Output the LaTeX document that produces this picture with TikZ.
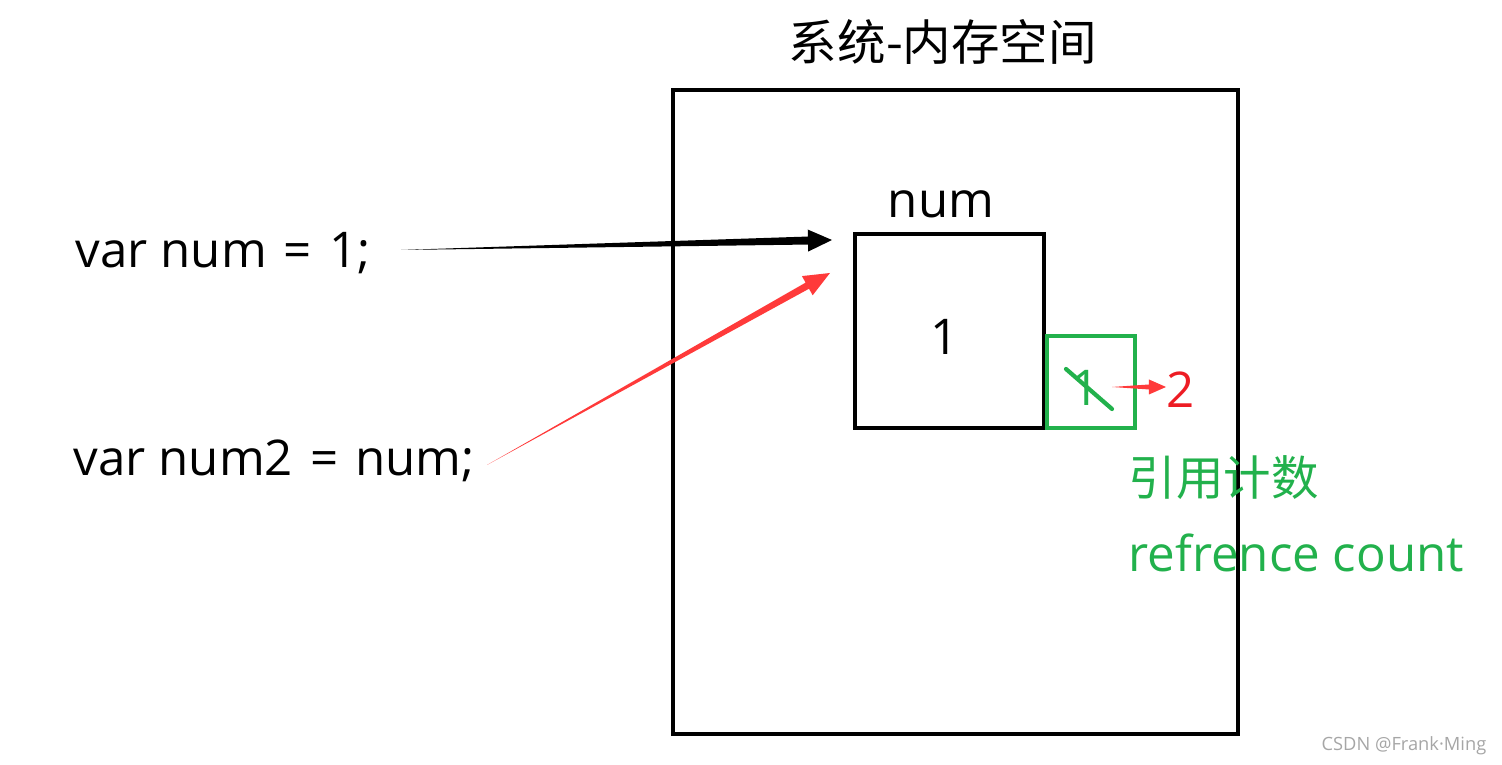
\documentclass[tikz,border=0pt]{standalone}
\usepackage{fontspec}
\setmainfont{Open Sans}
\newfontfamily\cjk{Noto Sans CJK SC}
\usetikzlibrary{calc,positioning}
\definecolor{countgreen}{RGB}{34,177,76}
\definecolor{arrowred}{RGB}{255,58,58}
\definecolor{numred}{RGB}{237,28,36}
\newcommand{\eqsign}{\hspace{1.2pt}=\hspace{1.2pt}}
\tikzset{%
  % Specifications for style of nodes:
   code/.style = {font=\fontsize{14}{16}\selectfont, inner sep=0pt},
   title/.style = {code, font=\cjk\fontsize{13.8}{16}\selectfont},
   memory/.style = {rectangle, draw=black, line width=1.2pt,
                  minimum width=5.65cm, minimum height=6.44cm},
   cell/.style = {rectangle, draw=black, line width=1.2pt,
                  minimum width=1.89cm, minimum height=1.935cm},
   counter/.style = {rectangle, draw=countgreen, line width=1.3pt,
                  minimum width=0.88cm, minimum height=0.92cm},
   green_text/.style = {code, text=countgreen},
   mark_text/.style = {font=\fontsize{5.2}{6}\selectfont, text=black!35, inner sep=0pt},
  % Specifications for style of lines:
   strike/.style = {countgreen, line width=1.2pt, line cap=round},
}
% tapered arrow: colour, from, to, head length, head half width, shaft half width
\newcommand{\taperarrow}[6]{%
  \path (#3) coordinate (tip) ($(#3)!#4!(#2)$) coordinate (tbase);
  \fill[#1] (#2) -- ($(tbase)!#6!90:(tip)$) -- ($(tbase)!#5!90:(tip)$) -- (tip)
     -- ($(tbase)!#5!-90:(tip)$) -- ($(tbase)!#6!-90:(tip)$) -- cycle;}

\begin{document}
\begin{tikzpicture}[x=0.01cm, y=-0.01cm]
  \useasboundingbox (0,0) rectangle (1502,765);

  % Specification of nodes (position, etc.)
  \node (title_text)	[title]	at (943,42)	{系统-内存空间};
  \node (memory_block)	[memory]	at (955.5,412)	{};
  \node (num_block)	[cell]	at (949.5,331)	{};
  \node (num_label)	[code, anchor=base]	at (941,218)	{num};
  \node (num_value)	[code, anchor=base]	at (945,355)	{1};
  \node (count_block)	[counter]	at (1091,382)	{};
  \node (old_count)	[green_text, anchor=base]	at (1086,406)	{1};
  \node (new_count)	[code, text=numred, anchor=base]	at (1181,408)	{2};
  \node (count_cn)	[green_text, font=\cjk\fontsize{13.5}{16}\selectfont, anchor=west]	at (1128,478)	{引用计数};
  \node (count_en)	[green_text, anchor=base west]	at (1128,572)	{refrence count};

  \node (varone_line)	[code, anchor=base west]	at (75,268)	{var num \eqsign{} 1;};
  \node (vartwo_line)	[code, anchor=base west]	at (73,476)	{var num2 \eqsign{} num;};
  \node (mark_text)	[mark_text, anchor=base east]	at (1487,751)	{CSDN @Frank·Ming};

  % Arrows
  \coordinate (varone_start) at (401,250);
  \coordinate (varone_end) at (832,240);
  \coordinate (vartwo_start) at (487,465);
  \coordinate (vartwo_end) at (830,273);
  \coordinate (count_start) at (1112,387);
  \coordinate (count_end) at (1166,387);
  \taperarrow{black}{varone_start}{varone_end}{0.24cm}{0.11cm}{0.04cm}
  \taperarrow{arrowred}{vartwo_start}{vartwo_end}{0.26cm}{0.11cm}{0.035cm}
  \taperarrow{arrowred}{count_start}{count_end}{0.17cm}{0.075cm}{0.025cm}

  \draw[strike] (1066,369) -- (1112,409);
\end{tikzpicture}
\end{document}
